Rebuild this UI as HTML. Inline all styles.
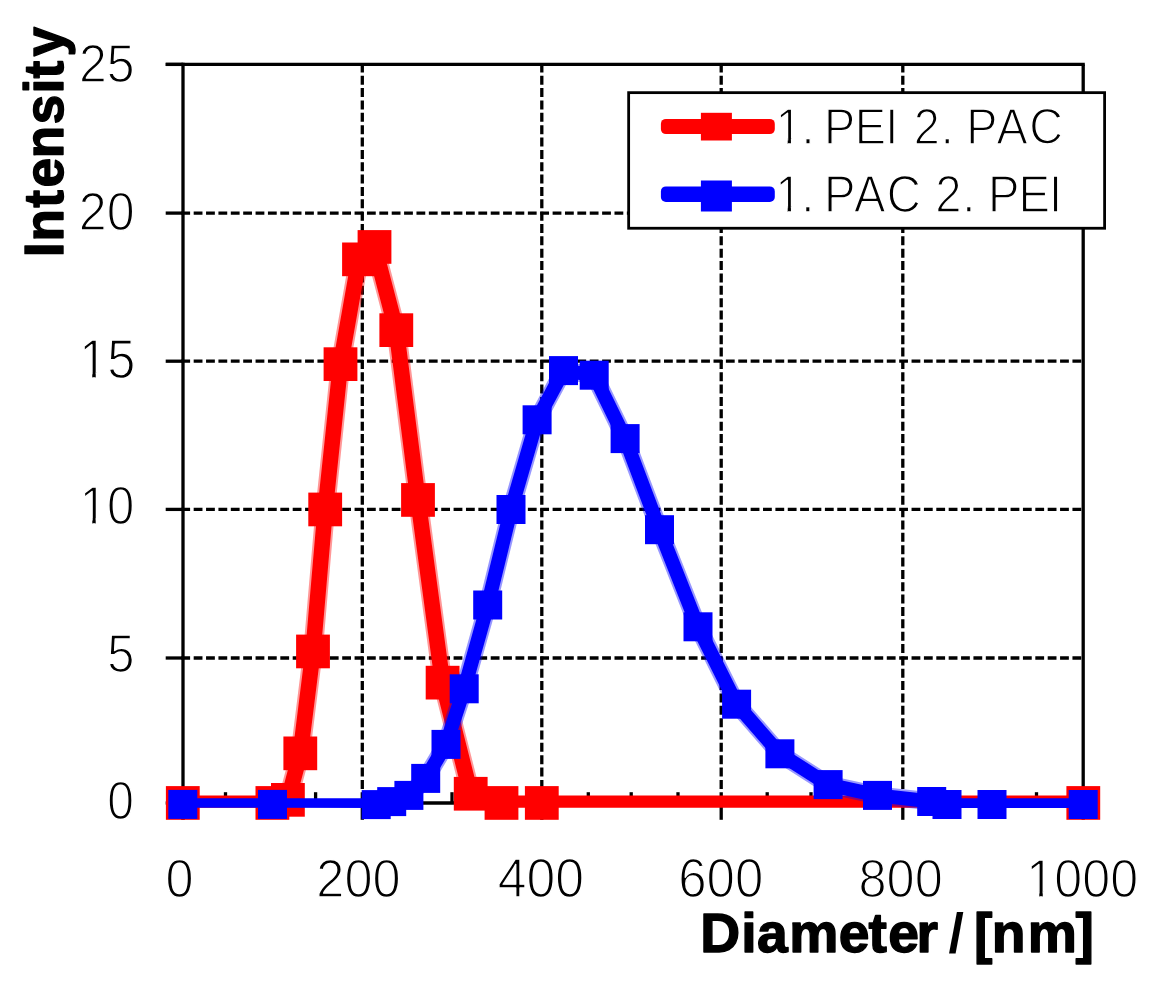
<!DOCTYPE html>
<html><head><meta charset="utf-8"><title>Chart</title>
<style>html,body{margin:0;padding:0;background:#fff;width:1154px;height:1000px;overflow:hidden}svg{display:block}</style>
</head><body>
<svg width="1154" height="1000" viewBox="0 0 1154 1000">
<defs><clipPath id="c1" clipPathUnits="userSpaceOnUse"><path d="M-10,-110H70V-10.5H-10Z M25.8,-10.5H32.7V10H25.8Z"/></clipPath></defs>
<rect width="1154" height="1000" fill="#fff"/>
<line x1="181.3" y1="213.1" x2="1083.2" y2="213.1" stroke="#000" stroke-width="3.3" stroke-dasharray="8.8 3.577"/>
<line x1="181.3" y1="361.2" x2="1083.2" y2="361.2" stroke="#000" stroke-width="3.3" stroke-dasharray="8.8 3.577"/>
<line x1="181.3" y1="509.4" x2="1083.2" y2="509.4" stroke="#000" stroke-width="3.3" stroke-dasharray="8.8 3.577"/>
<line x1="181.3" y1="658.0" x2="1083.2" y2="658.0" stroke="#000" stroke-width="3.3" stroke-dasharray="8.8 3.577"/>
<line x1="362.3" y1="63.4" x2="362.3" y2="803.0" stroke="#000" stroke-width="3.3" stroke-dasharray="9.0 3.354"/>
<line x1="362.3" y1="803.0" x2="362.3" y2="819.8" stroke="#000" stroke-width="3.3"/>
<line x1="541.8" y1="63.4" x2="541.8" y2="803.0" stroke="#000" stroke-width="3.3" stroke-dasharray="9.0 3.354"/>
<line x1="541.8" y1="803.0" x2="541.8" y2="819.8" stroke="#000" stroke-width="3.3"/>
<line x1="721.2" y1="63.4" x2="721.2" y2="803.0" stroke="#000" stroke-width="3.3" stroke-dasharray="9.0 3.354"/>
<line x1="721.2" y1="803.0" x2="721.2" y2="819.8" stroke="#000" stroke-width="3.3"/>
<line x1="902.8" y1="63.4" x2="902.8" y2="803.0" stroke="#000" stroke-width="3.3" stroke-dasharray="9.0 3.354"/>
<line x1="902.8" y1="803.0" x2="902.8" y2="819.8" stroke="#000" stroke-width="3.3"/>
<line x1="165.7" y1="64.4" x2="183.0" y2="64.4" stroke="#000" stroke-width="3.3"/>
<line x1="165.7" y1="213.1" x2="183.0" y2="213.1" stroke="#000" stroke-width="3.3"/>
<line x1="165.7" y1="361.2" x2="183.0" y2="361.2" stroke="#000" stroke-width="3.3"/>
<line x1="165.7" y1="509.4" x2="183.0" y2="509.4" stroke="#000" stroke-width="3.3"/>
<line x1="165.7" y1="658.0" x2="183.0" y2="658.0" stroke="#000" stroke-width="3.3"/>
<line x1="165.7" y1="803.0" x2="183.0" y2="803.0" stroke="#000" stroke-width="3.3"/>
<line x1="225.5" y1="792.2" x2="225.5" y2="803.0" stroke="#000" stroke-width="3.3"/>
<line x1="270.6" y1="792.2" x2="270.6" y2="803.0" stroke="#000" stroke-width="3.3"/>
<line x1="315.6" y1="792.2" x2="315.6" y2="803.0" stroke="#000" stroke-width="3.3"/>
<line x1="407.1" y1="792.2" x2="407.1" y2="803.0" stroke="#000" stroke-width="3.3"/>
<line x1="452.0" y1="792.2" x2="452.0" y2="803.0" stroke="#000" stroke-width="3.3"/>
<line x1="496.9" y1="792.2" x2="496.9" y2="803.0" stroke="#000" stroke-width="3.3"/>
<line x1="588.3" y1="792.2" x2="588.3" y2="803.0" stroke="#000" stroke-width="3.3"/>
<line x1="631.2" y1="792.2" x2="631.2" y2="803.0" stroke="#000" stroke-width="3.3"/>
<line x1="678.0" y1="792.2" x2="678.0" y2="803.0" stroke="#000" stroke-width="3.3"/>
<line x1="767.2" y1="792.2" x2="767.2" y2="803.0" stroke="#000" stroke-width="3.3"/>
<line x1="811.0" y1="792.2" x2="811.0" y2="803.0" stroke="#000" stroke-width="3.3"/>
<line x1="856.9" y1="792.2" x2="856.9" y2="803.0" stroke="#000" stroke-width="3.3"/>
<line x1="947.4" y1="792.2" x2="947.4" y2="803.0" stroke="#000" stroke-width="3.3"/>
<line x1="991.9" y1="792.2" x2="991.9" y2="803.0" stroke="#000" stroke-width="3.3"/>
<line x1="1036.5" y1="792.2" x2="1036.5" y2="803.0" stroke="#000" stroke-width="3.3"/>
<line x1="183.0" y1="803.0" x2="183.0" y2="819.8" stroke="#000" stroke-width="3.3"/>
<line x1="1083.2" y1="803.0" x2="1083.2" y2="819.8" stroke="#000" stroke-width="3.3"/>
<line x1="165.7" y1="64.4" x2="1084.8" y2="64.4" stroke="#000" stroke-width="3.3"/>
<line x1="1083.2" y1="64.4" x2="1083.2" y2="803.0" stroke="#000" stroke-width="3.3"/>
<line x1="183.0" y1="62.800000000000004" x2="183.0" y2="819.8" stroke="#000" stroke-width="3.3"/>
<line x1="181.4" y1="803.0" x2="1084.8" y2="803.0" stroke="#000" stroke-width="3.3"/>
<g opacity="0.4" stroke="#ff0000" stroke-linecap="round"><line x1="272.4" y1="803.0" x2="287.9" y2="799.9" stroke-width="19.5"/><line x1="287.9" y1="799.9" x2="300.3" y2="753.4" stroke-width="19.5"/><line x1="300.3" y1="753.4" x2="313" y2="651.5" stroke-width="19.5"/><line x1="313" y1="651.5" x2="325.2" y2="509.5" stroke-width="19.5"/><line x1="325.2" y1="509.5" x2="340.5" y2="364.2" stroke-width="19.5"/><line x1="340.5" y1="364.2" x2="359" y2="259.3" stroke-width="19.5"/><line x1="359" y1="259.3" x2="374.5" y2="246.9" stroke-width="19.5"/><line x1="374.5" y1="246.9" x2="396.3" y2="330.2" stroke-width="19.5"/><line x1="396.3" y1="330.2" x2="418" y2="500.0" stroke-width="19.5"/><line x1="418" y1="500.0" x2="442.6" y2="682.6" stroke-width="19.5"/><line x1="442.6" y1="682.6" x2="470.7" y2="793.8" stroke-width="19.5"/><line x1="470.7" y1="793.8" x2="501.5" y2="803.0" stroke-width="19.5"/></g>
<g stroke="#ff0000" stroke-linecap="round"><line x1="182.8" y1="801.6" x2="272.4" y2="801.6" stroke-width="12.2"/><line x1="272.4" y1="803.0" x2="287.9" y2="799.9" stroke-width="15.5"/><line x1="287.9" y1="799.9" x2="300.3" y2="753.4" stroke-width="15.5"/><line x1="300.3" y1="753.4" x2="313" y2="651.5" stroke-width="15.5"/><line x1="313" y1="651.5" x2="325.2" y2="509.5" stroke-width="15.5"/><line x1="325.2" y1="509.5" x2="340.5" y2="364.2" stroke-width="15.5"/><line x1="340.5" y1="364.2" x2="359" y2="259.3" stroke-width="15.5"/><line x1="359" y1="259.3" x2="374.5" y2="246.9" stroke-width="15.5"/><line x1="374.5" y1="246.9" x2="396.3" y2="330.2" stroke-width="15.5"/><line x1="396.3" y1="330.2" x2="418" y2="500.0" stroke-width="15.5"/><line x1="418" y1="500.0" x2="442.6" y2="682.6" stroke-width="15.5"/><line x1="442.6" y1="682.6" x2="470.7" y2="793.8" stroke-width="15.5"/><line x1="470.7" y1="793.8" x2="501.5" y2="803.0" stroke-width="15.5"/><line x1="501.5" y1="801.6" x2="541.8" y2="801.6" stroke-width="12.2"/><line x1="541.8" y1="801.6" x2="1083.3" y2="801.6" stroke-width="12.2"/></g>
<rect x="165.9" y="786.1" width="33.8" height="33.7" fill="#ff0000"/>
<rect x="255.5" y="786.1" width="33.8" height="33.7" fill="#ff0000"/>
<rect x="271.0" y="783.0" width="33.8" height="33.7" fill="#ff0000"/>
<rect x="283.4" y="736.5" width="33.8" height="33.7" fill="#ff0000"/>
<rect x="296.1" y="634.6" width="33.8" height="33.7" fill="#ff0000"/>
<rect x="308.3" y="492.6" width="33.8" height="33.7" fill="#ff0000"/>
<rect x="323.6" y="347.3" width="33.8" height="33.7" fill="#ff0000"/>
<rect x="342.1" y="242.5" width="33.8" height="33.7" fill="#ff0000"/>
<rect x="357.6" y="230.1" width="33.8" height="33.7" fill="#ff0000"/>
<rect x="379.4" y="313.3" width="33.8" height="33.7" fill="#ff0000"/>
<rect x="401.1" y="483.1" width="33.8" height="33.7" fill="#ff0000"/>
<rect x="425.7" y="665.8" width="33.8" height="33.7" fill="#ff0000"/>
<rect x="453.8" y="776.9" width="33.8" height="33.7" fill="#ff0000"/>
<rect x="484.6" y="786.1" width="33.8" height="33.7" fill="#ff0000"/>
<rect x="524.9" y="786.1" width="33.8" height="33.7" fill="#ff0000"/>
<rect x="1066.4" y="786.1" width="33.8" height="33.7" fill="#ff0000"/>
<g opacity="0.4" stroke="#0000ff" stroke-linecap="round"><line x1="376.2" y1="804.6" x2="391.7" y2="801.6" stroke-width="18.0"/><line x1="391.7" y1="801.6" x2="408.9" y2="795.4" stroke-width="18.0"/><line x1="408.9" y1="795.4" x2="425.7" y2="778.4" stroke-width="18.0"/><line x1="425.7" y1="778.4" x2="446" y2="744.4" stroke-width="18.0"/><line x1="446" y1="744.4" x2="464.2" y2="688.8" stroke-width="18.0"/><line x1="464.2" y1="688.8" x2="487.7" y2="605.0" stroke-width="18.0"/><line x1="487.7" y1="605.0" x2="511" y2="509.5" stroke-width="18.0"/><line x1="511" y1="509.5" x2="537.1" y2="419.8" stroke-width="18.0"/><line x1="537.1" y1="419.8" x2="563.5" y2="370.6" stroke-width="18.0"/><line x1="563.5" y1="370.6" x2="594.2" y2="375.2" stroke-width="18.0"/><line x1="594.2" y1="375.2" x2="625.1" y2="438.6" stroke-width="18.0"/><line x1="625.1" y1="438.6" x2="659.5" y2="529.7" stroke-width="18.0"/><line x1="659.5" y1="529.7" x2="698" y2="626.8" stroke-width="18.0"/><line x1="698" y1="626.8" x2="736.6" y2="704.2" stroke-width="18.0"/><line x1="736.6" y1="704.2" x2="779.9" y2="753.8" stroke-width="18.0"/><line x1="779.9" y1="753.8" x2="828.1" y2="784.6" stroke-width="18.0"/><line x1="828.1" y1="784.6" x2="877.5" y2="795.4" stroke-width="18.0"/><line x1="877.5" y1="795.4" x2="931.7" y2="801.5" stroke-width="18.0"/><line x1="931.7" y1="801.5" x2="947" y2="804.5" stroke-width="18.0"/></g>
<g stroke="#0000ff" stroke-linecap="round"><line x1="182.8" y1="803.0" x2="272.5" y2="803.0" stroke-width="9.7"/><line x1="272.5" y1="803.0" x2="376.2" y2="803.2" stroke-width="9.7"/><line x1="376.2" y1="804.6" x2="391.7" y2="801.6" stroke-width="14.0"/><line x1="391.7" y1="801.6" x2="408.9" y2="795.4" stroke-width="14.0"/><line x1="408.9" y1="795.4" x2="425.7" y2="778.4" stroke-width="14.0"/><line x1="425.7" y1="778.4" x2="446" y2="744.4" stroke-width="14.0"/><line x1="446" y1="744.4" x2="464.2" y2="688.8" stroke-width="14.0"/><line x1="464.2" y1="688.8" x2="487.7" y2="605.0" stroke-width="14.0"/><line x1="487.7" y1="605.0" x2="511" y2="509.5" stroke-width="14.0"/><line x1="511" y1="509.5" x2="537.1" y2="419.8" stroke-width="14.0"/><line x1="537.1" y1="419.8" x2="563.5" y2="370.6" stroke-width="14.0"/><line x1="563.5" y1="370.6" x2="594.2" y2="375.2" stroke-width="14.0"/><line x1="594.2" y1="375.2" x2="625.1" y2="438.6" stroke-width="14.0"/><line x1="625.1" y1="438.6" x2="659.5" y2="529.7" stroke-width="14.0"/><line x1="659.5" y1="529.7" x2="698" y2="626.8" stroke-width="14.0"/><line x1="698" y1="626.8" x2="736.6" y2="704.2" stroke-width="14.0"/><line x1="736.6" y1="704.2" x2="779.9" y2="753.8" stroke-width="14.0"/><line x1="779.9" y1="753.8" x2="828.1" y2="784.6" stroke-width="14.0"/><line x1="828.1" y1="784.6" x2="877.5" y2="795.4" stroke-width="14.0"/><line x1="877.5" y1="795.4" x2="931.7" y2="801.5" stroke-width="14.0"/><line x1="931.7" y1="801.5" x2="947" y2="804.5" stroke-width="14.0"/><line x1="947" y1="803.1" x2="992" y2="803.1" stroke-width="9.7"/><line x1="992" y1="803.1" x2="1083.2" y2="803.1" stroke-width="9.7"/></g>
<rect x="168.3" y="789.9" width="29" height="29" fill="#0000ff"/>
<rect x="258.0" y="789.9" width="29" height="29" fill="#0000ff"/>
<rect x="361.7" y="790.1" width="29" height="29" fill="#0000ff"/>
<rect x="377.2" y="787.1" width="29" height="29" fill="#0000ff"/>
<rect x="394.4" y="780.9" width="29" height="29" fill="#0000ff"/>
<rect x="411.2" y="763.9" width="29" height="29" fill="#0000ff"/>
<rect x="431.5" y="729.9" width="29" height="29" fill="#0000ff"/>
<rect x="449.7" y="674.3" width="29" height="29" fill="#0000ff"/>
<rect x="473.2" y="590.5" width="29" height="29" fill="#0000ff"/>
<rect x="496.5" y="495.0" width="29" height="29" fill="#0000ff"/>
<rect x="522.6" y="405.3" width="29" height="29" fill="#0000ff"/>
<rect x="549.0" y="356.1" width="29" height="29" fill="#0000ff"/>
<rect x="579.7" y="360.7" width="29" height="29" fill="#0000ff"/>
<rect x="610.6" y="424.1" width="29" height="29" fill="#0000ff"/>
<rect x="645.0" y="515.2" width="29" height="29" fill="#0000ff"/>
<rect x="683.5" y="612.3" width="29" height="29" fill="#0000ff"/>
<rect x="722.1" y="689.7" width="29" height="29" fill="#0000ff"/>
<rect x="765.4" y="739.3" width="29" height="29" fill="#0000ff"/>
<rect x="813.6" y="770.1" width="29" height="29" fill="#0000ff"/>
<rect x="863.0" y="780.9" width="29" height="29" fill="#0000ff"/>
<rect x="917.2" y="787.0" width="29" height="29" fill="#0000ff"/>
<rect x="932.5" y="790.0" width="29" height="29" fill="#0000ff"/>
<rect x="977.5" y="790.0" width="29" height="29" fill="#0000ff"/>
<rect x="1068.7" y="790.0" width="29" height="29" fill="#0000ff"/>
<rect x="628.65" y="92.65" width="475.95" height="135.6" fill="#fff" stroke="#000" stroke-width="2.8"/>
<rect x="660.9" y="118.9" width="113.9" height="15.2" rx="5" fill="#ff0000"/>
<rect x="700.9" y="112.8" width="31" height="27.7" fill="#ff0000"/>
<rect x="660.9" y="186.4" width="113.9" height="15.5" rx="5" fill="#0000ff"/>
<rect x="700.9" y="180.5" width="31" height="31" fill="#0000ff"/>
<g font-family="'Liberation Sans', Arial, sans-serif" font-size="100" fill="#000">
<text transform="translate(775.64,144.20) scale(0.4677,0.5072)" font-weight="normal" clip-path="url(#c1)" stroke="#fff" stroke-width="2.87" stroke-linejoin="round">1</text>
<text transform="translate(801.42,144.20) scale(0.4677,0.5072)" font-weight="normal" stroke="#fff" stroke-width="2.87" stroke-linejoin="round">.</text>
<text transform="translate(824.05,144.20) scale(0.4677,0.5072)" font-weight="normal" stroke="#fff" stroke-width="2.87" stroke-linejoin="round">P</text>
<text transform="translate(854.86,144.20) scale(0.4677,0.5072)" font-weight="normal" stroke="#fff" stroke-width="2.87" stroke-linejoin="round">E</text>
<text transform="translate(885.22,144.20) scale(0.4677,0.5072)" font-weight="normal" stroke="#fff" stroke-width="2.87" stroke-linejoin="round">I</text>
<text transform="translate(913.87,144.20) scale(0.4677,0.5072)" font-weight="normal" stroke="#fff" stroke-width="2.87" stroke-linejoin="round">2</text>
<text transform="translate(940.72,144.20) scale(0.4677,0.5072)" font-weight="normal" stroke="#fff" stroke-width="2.87" stroke-linejoin="round">.</text>
<text transform="translate(966.30,144.20) scale(0.4677,0.5072)" font-weight="normal" stroke="#fff" stroke-width="2.87" stroke-linejoin="round">P</text>
<text transform="translate(996.48,144.20) scale(0.4677,0.5072)" font-weight="normal" stroke="#fff" stroke-width="2.87" stroke-linejoin="round">A</text>
<text transform="translate(1029.23,144.20) scale(0.4677,0.5072)" font-weight="normal" stroke="#fff" stroke-width="2.87" stroke-linejoin="round">C</text>
<text transform="translate(775.51,212.10) scale(0.4720,0.5087)" font-weight="normal" clip-path="url(#c1)" stroke="#fff" stroke-width="2.86" stroke-linejoin="round">1</text>
<text transform="translate(801.36,212.10) scale(0.4720,0.5087)" font-weight="normal" stroke="#fff" stroke-width="2.86" stroke-linejoin="round">.</text>
<text transform="translate(823.90,212.10) scale(0.4720,0.5087)" font-weight="normal" stroke="#fff" stroke-width="2.86" stroke-linejoin="round">P</text>
<text transform="translate(854.04,212.10) scale(0.4720,0.5087)" font-weight="normal" stroke="#fff" stroke-width="2.86" stroke-linejoin="round">A</text>
<text transform="translate(886.77,212.10) scale(0.4720,0.5087)" font-weight="normal" stroke="#fff" stroke-width="2.86" stroke-linejoin="round">C</text>
<text transform="translate(935.35,212.10) scale(0.4720,0.5087)" font-weight="normal" stroke="#fff" stroke-width="2.86" stroke-linejoin="round">2</text>
<text transform="translate(962.16,212.10) scale(0.4720,0.5087)" font-weight="normal" stroke="#fff" stroke-width="2.86" stroke-linejoin="round">.</text>
<text transform="translate(987.95,212.10) scale(0.4720,0.5087)" font-weight="normal" stroke="#fff" stroke-width="2.86" stroke-linejoin="round">P</text>
<text transform="translate(1018.46,212.10) scale(0.4720,0.5087)" font-weight="normal" stroke="#fff" stroke-width="2.86" stroke-linejoin="round">E</text>
<text transform="translate(1049.06,212.10) scale(0.4720,0.5087)" font-weight="normal" stroke="#fff" stroke-width="2.86" stroke-linejoin="round">I</text>
<text transform="translate(78.90,81.86) scale(0.5000,0.5380)" stroke="#fff" stroke-width="2.70" stroke-linejoin="round">2</text><text transform="translate(106.71,81.86) scale(0.5000,0.5380)" stroke="#fff" stroke-width="2.70" stroke-linejoin="round">5</text>
<text transform="translate(78.80,229.96) scale(0.5010,0.5394)" stroke="#fff" stroke-width="2.69" stroke-linejoin="round">2</text><text transform="translate(106.66,229.96) scale(0.5010,0.5394)" stroke="#fff" stroke-width="2.69" stroke-linejoin="round">0</text>
<text transform="translate(79.20,378.44) scale(0.5056,0.5600)" clip-path="url(#c1)" stroke="#fff" stroke-width="2.63" stroke-linejoin="round">1</text><text transform="translate(107.32,378.44) scale(0.5056,0.5600)" stroke="#fff" stroke-width="2.63" stroke-linejoin="round">5</text>
<text transform="translate(79.63,523.76) scale(0.4913,0.5437)" clip-path="url(#c1)" stroke="#fff" stroke-width="2.71" stroke-linejoin="round">1</text><text transform="translate(106.96,523.76) scale(0.4913,0.5437)" stroke="#fff" stroke-width="2.71" stroke-linejoin="round">0</text>
<text transform="translate(107.24,671.56) scale(0.4894,0.5443)" stroke="#fff" stroke-width="2.71" stroke-linejoin="round">5</text>
<text transform="translate(107.28,819.46) scale(0.4792,0.5366)" stroke="#fff" stroke-width="2.76" stroke-linejoin="round">0</text>
<text transform="translate(165.48,897.06) scale(0.5042,0.5408)" stroke="#fff" stroke-width="2.68" stroke-linejoin="round">0</text>
<text transform="translate(316.37,897.06) scale(0.5051,0.5408)" stroke="#fff" stroke-width="2.68" stroke-linejoin="round">2</text><text transform="translate(344.46,897.06) scale(0.5051,0.5408)" stroke="#fff" stroke-width="2.68" stroke-linejoin="round">0</text><text transform="translate(372.55,897.06) scale(0.5051,0.5408)" stroke="#fff" stroke-width="2.68" stroke-linejoin="round">0</text>
<text transform="translate(497.77,897.45) scale(0.5174,0.5465)" stroke="#fff" stroke-width="2.63" stroke-linejoin="round">4</text><text transform="translate(526.54,897.45) scale(0.5174,0.5465)" stroke="#fff" stroke-width="2.63" stroke-linejoin="round">0</text><text transform="translate(555.31,897.45) scale(0.5174,0.5465)" stroke="#fff" stroke-width="2.63" stroke-linejoin="round">0</text>
<text transform="translate(678.25,897.45) scale(0.5101,0.5465)" stroke="#fff" stroke-width="2.65" stroke-linejoin="round">6</text><text transform="translate(706.62,897.45) scale(0.5101,0.5465)" stroke="#fff" stroke-width="2.65" stroke-linejoin="round">0</text><text transform="translate(734.99,897.45) scale(0.5101,0.5465)" stroke="#fff" stroke-width="2.65" stroke-linejoin="round">0</text>
<text transform="translate(858.48,896.97) scale(0.5050,0.5338)" stroke="#fff" stroke-width="2.70" stroke-linejoin="round">8</text><text transform="translate(886.57,896.97) scale(0.5050,0.5338)" stroke="#fff" stroke-width="2.70" stroke-linejoin="round">0</text><text transform="translate(914.65,896.97) scale(0.5050,0.5338)" stroke="#fff" stroke-width="2.70" stroke-linejoin="round">0</text>
<text transform="translate(1026.32,896.97) scale(0.5026,0.5338)" clip-path="url(#c1)" stroke="#fff" stroke-width="2.70" stroke-linejoin="round">1</text><text transform="translate(1054.28,896.97) scale(0.5026,0.5338)" stroke="#fff" stroke-width="2.70" stroke-linejoin="round">0</text><text transform="translate(1082.23,896.97) scale(0.5026,0.5338)" stroke="#fff" stroke-width="2.70" stroke-linejoin="round">0</text><text transform="translate(1110.19,896.97) scale(0.5026,0.5338)" stroke="#fff" stroke-width="2.70" stroke-linejoin="round">0</text>
<text transform="translate(700.20,952.00) scale(0.5531,0.5580)" font-weight="bold" stroke="#000" stroke-width="2.52" stroke-linejoin="round">D</text>
<text transform="translate(741.34,952.00) scale(0.5531,0.5580)" font-weight="bold" stroke="#000" stroke-width="2.52" stroke-linejoin="round">i</text>
<text transform="translate(756.93,952.00) scale(0.5531,0.5580)" font-weight="bold" stroke="#000" stroke-width="2.52" stroke-linejoin="round">a</text>
<text transform="translate(789.34,952.00) scale(0.5531,0.5580)" font-weight="bold" stroke="#000" stroke-width="2.52" stroke-linejoin="round">m</text>
<text transform="translate(838.71,952.00) scale(0.5531,0.5580)" font-weight="bold" stroke="#000" stroke-width="2.52" stroke-linejoin="round">e</text>
<text transform="translate(868.52,952.00) scale(0.5531,0.5580)" font-weight="bold" stroke="#000" stroke-width="2.52" stroke-linejoin="round">t</text>
<text transform="translate(888.36,952.00) scale(0.5531,0.5580)" font-weight="bold" stroke="#000" stroke-width="2.52" stroke-linejoin="round">e</text>
<text transform="translate(916.48,952.00) scale(0.5531,0.5580)" font-weight="bold" stroke="#000" stroke-width="2.52" stroke-linejoin="round">r</text>
<text transform="translate(948.51,952.00) scale(0.5531,0.5580)" font-weight="bold">/</text>
<text transform="translate(973.88,952.00) scale(0.5531,0.5580)" font-weight="bold" stroke="#000" stroke-width="2.52" stroke-linejoin="round">[</text>
<text transform="translate(991.84,952.00) scale(0.5531,0.5580)" font-weight="bold" stroke="#000" stroke-width="2.52" stroke-linejoin="round">n</text>
<text transform="translate(1027.79,952.00) scale(0.5531,0.5580)" font-weight="bold" stroke="#000" stroke-width="2.52" stroke-linejoin="round">m</text>
<text transform="translate(1075.47,952.00) scale(0.5531,0.5580)" font-weight="bold" stroke="#000" stroke-width="2.52" stroke-linejoin="round">]</text>
<g transform="rotate(-90)"><text transform="translate(-257.36,62.90) scale(0.5313,0.5623)" font-weight="bold" stroke="#000" stroke-width="2.56" stroke-linejoin="round">I</text><text transform="translate(-241.44,62.90) scale(0.5313,0.5623)" font-weight="bold" stroke="#000" stroke-width="2.56" stroke-linejoin="round">n</text><text transform="translate(-207.87,62.90) scale(0.5313,0.5623)" font-weight="bold" stroke="#000" stroke-width="2.56" stroke-linejoin="round">t</text><text transform="translate(-187.48,62.90) scale(0.5313,0.5623)" font-weight="bold" stroke="#000" stroke-width="2.56" stroke-linejoin="round">e</text><text transform="translate(-158.34,62.90) scale(0.5313,0.5623)" font-weight="bold" stroke="#000" stroke-width="2.56" stroke-linejoin="round">n</text><text transform="translate(-124.21,62.90) scale(0.5313,0.5623)" font-weight="bold" stroke="#000" stroke-width="2.56" stroke-linejoin="round">s</text><text transform="translate(-93.61,62.90) scale(0.5313,0.5623)" font-weight="bold" stroke="#000" stroke-width="2.56" stroke-linejoin="round">i</text><text transform="translate(-78.57,62.90) scale(0.5313,0.5623)" font-weight="bold" stroke="#000" stroke-width="2.56" stroke-linejoin="round">t</text><text transform="translate(-56.48,62.90) scale(0.5313,0.5623)" font-weight="bold" stroke="#000" stroke-width="2.56" stroke-linejoin="round">y</text></g>
</g>
</svg>
</body></html>
